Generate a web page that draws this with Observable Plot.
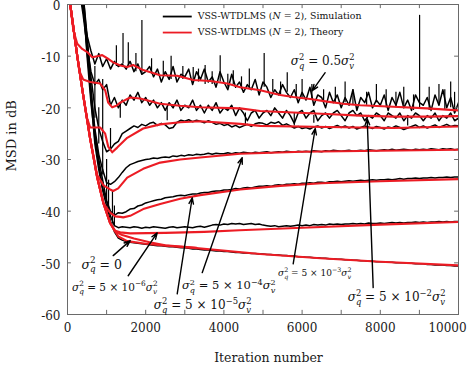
<!DOCTYPE html>
<html><head><meta charset="utf-8">
<script src="https://cdn.jsdelivr.net/npm/d3@7"></script>
<script src="https://cdn.jsdelivr.net/npm/@observablehq/plot@0.6"></script>
<style>
body{margin:0;background:#fff;}
#chart svg{display:block;}
</style>
</head><body><div id="chart"></div>
<script>
// ---------------- data ----------------
const simStep = 100; // iterations between simulation samples (x = index * simStep)

const sim05 = [
 12, 10, 7, 3, -1, -6, -9, -11.5, -9.5, -12,
 -10.5, -12.5, -11, -12, -11.5, -12.5, -11, -13, -11.5, -13.5,
 -13, -12, -14, -12.5, -15, -13, -14.5, -12, -15, -13.5,
 -14, -12.5, -15.5, -13, -14.5, -12.5, -15, -14, -16, -13,
 -15, -16.5, -13.5, -16, -15, -17, -15.5, -16.5, -14.5, -17.5,
 -15, -16, -18, -16.5, -17.5, -15.5, -17, -18, -16.5, -19,
 -17, -18.5, -16, -19.5, -17.5, -18, -20, -17, -19, -17.5,
 -20, -18, -19.5, -16.5, -20.5, -18, -19, -17, -20, -18.5,
 -19.5, -17.5, -20.5, -18, -19.5, -17, -20, -18.5, -20.5, -17.5,
 -19, -19.5, -18, -20.5, -17.5, -19.5, -16.5, -20, -18, -21,
 -19];
const sim5e2 = [
 12, 10, 7, 3, -2, -8, -13, -15.5, -14.5, -16.5,
 -15.5, -19.5, -18, -20, -18.5, -19.5, -17.5, -18.5, -17, -19,
 -18, -19.5, -18.5, -20, -19, -20.5, -19, -20, -18.5, -20.5,
 -19.5, -20, -18.5, -20.5, -19.5, -21, -19.5, -20.5, -19, -21,
 -20, -20.5, -19.5, -21.5, -20, -21, -22.5, -21, -20.5, -22,
 -21, -20.5, -21.5, -20, -21, -22, -20.5, -21.5, -23, -21,
 -20.5, -22, -21, -20.5, -22.5, -21.5, -21, -22, -21, -20.5,
 -21.5, -22.5, -21, -20.5, -21.5, -21, -22.5, -21.5, -22, -21,
 -21.5, -22.5, -21, -21.5, -22, -21, -22.5, -21.5, -22, -21,
 -21.5, -22.5, -21.5, -22, -21, -22.5, -21.5, -22, -21, -22.5,
 -22];
const sim5e3 = [
 12, 11, 8, 4, -1, -7, -14, -20, -24, -26.5,
 -28.5, -28, -27, -26.5, -25, -24.5, -24, -23.5, -23.8, -23.2,
 -23.5, -23, -22.8, -23.4, -23, -23.3, -24, -23.8, -22.8, -22.4,
 -22.6, -22.3, -22.7, -22.4, -22.6, -22.9, -22.5, -22.8, -23.2, -23,
 -23.4, -23.2, -23.7, -23.4, -23.8, -23.5, -23.2, -23.6, -23.1, -22.9,
 -23, -23.3, -22.8, -23, -22.7, -23.4, -23.1, -23.5, -23.9, -23.6,
 -24, -23.8, -24.1, -23.7, -23.5, -23.9, -23.6, -24, -23.7, -23.4,
 -23.8, -23.5, -23.9, -23.6, -24.1, -23.8, -23.5, -23.7, -24, -23.6,
 -23.8, -24.1, -23.7, -23.9, -23.5, -23.8, -24.2, -23.9, -23.6, -23.3,
 -23.8, -23.5, -23.9, -23.6, -23.3, -23.8, -23.5, -23.2, -23.6, -23.4,
 -23.5];
const sim5e4 = [
 12, 11, 9, 5, 0, -9, -17, -24, -29, -32,
 -34.5, -34.8, -34.3, -33.5, -32.5, -31.6, -31, -30.7, -30.4, -30.2,
 -30, -29.9, -29.7, -29.8, -29.6, -29.5, -29.6, -29.3, -29.4, -29.2,
 -29.3, -29.1, -29.2, -29, -29.1, -29, -28.8, -29, -28.8, -28.9,
 -28.9, -28.7, -28.9, -28.7, -28.8, -28.6, -28.7, -28.8, -28.6, -28.7,
 -28.6, -28.5, -28.7, -28.6, -28.5, -28.6, -28.4, -28.5, -28.6, -28.4,
 -28.5, -28.4, -28.5, -28.3, -28.4, -28.5, -28.3, -28.4, -28.2, -28.3,
 -28.4, -28.3, -28.2, -28.4, -28.3, -28.2, -28.3, -28.1, -28.2, -28.3,
 -28.2, -28.1, -28.2, -28, -28.2, -28.1, -28, -28.1, -28.2, -28,
 -28.1, -28, -28.1, -27.9, -28, -28.1, -27.9, -28, -27.9, -28.1,
 -28];
const sim5e5 = [
 12, 11, 9, 6, 1, -10, -19, -26, -31, -35.5,
 -38, -40, -40.8, -40.3, -40.4, -40.1, -39.6, -39.5, -39, -38.8,
 -38.4, -38.2, -38, -37.8, -37.7, -37.4, -37.3, -37.2, -37, -36.9,
 -37, -36.8, -36.7, -36.7, -36.5, -36.4, -36.4, -36.2, -36.1, -36.1,
 -35.9, -35.9, -35.8, -35.6, -35.7, -35.5, -35.4, -35.5, -35.3, -35.2,
 -35.2, -35.1, -35.2, -35, -34.9, -35, -34.8, -34.8, -34.7, -34.8,
 -34.6, -34.6, -34.5, -34.6, -34.4, -34.4, -34.5, -34.3, -34.3, -34.2,
 -34.3, -34.2, -34.1, -34.2, -34.1, -34, -34.1, -34, -33.9, -34,
 -33.9, -33.9, -33.8, -33.9, -33.8, -33.7, -33.8, -33.7, -33.7, -33.6,
 -33.7, -33.6, -33.6, -33.5, -33.6, -33.5, -33.5, -33.4, -33.5, -33.4,
 -33.4];
const sim5e6 = [
 12, 11, 10, 6, 2, -6, -16, -25, -30, -34,
 -38, -41, -42.8, -43.2, -43, -43.1, -43.2, -43, -43.1, -43.3,
 -43.1, -43.2, -43, -43.1, -43.2, -43.3, -43.1, -43, -43.2, -43.1,
 -43, -43.1, -43.2, -43, -42.9, -43.1, -42.9, -42.7, -42.6, -42.7,
 -42.5, -42.6, -42.4, -42.5, -42.4, -42.6, -42.5, -42.4, -42.6, -42.5,
 -42.7, -42.8, -42.9, -42.8, -43, -42.9, -42.8, -42.9, -42.8, -42.7,
 -42.8, -42.7, -42.8, -42.6, -42.7, -42.6, -42.7, -42.5, -42.6, -42.5,
 -42.6, -42.5, -42.5, -42.4, -42.5, -42.4, -42.5, -42.3, -42.4, -42.4,
 -42.3, -42.4, -42.3, -42.2, -42.3, -42.2, -42.3, -42.2, -42.2, -42.1,
 -42.2, -42.1, -42.2, -42.1, -42.1, -42, -42.1, -42, -42.1, -42,
 -42];
const sim0 = [
 12, 11, 10, 7, 2, -7, -18, -27, -32, -36,
 -39, -42, -44, -45.2, -45.6, -45.9, -46, -46.1, -46.2, -46.3,
 -46.4, -46.5, -46.6, -46.7, -46.7, -46.8, -46.9, -46.9, -47, -47.1,
 -47.1, -47.2, -47.3, -47.3, -47.4, -47.5, -47.5, -47.6, -47.7, -47.7,
 -47.8, -47.8, -47.9, -48, -48, -48.1, -48.1, -48.2, -48.2, -48.3,
 -48.3, -48.4, -48.4, -48.5, -48.5, -48.6, -48.6, -48.7, -48.7, -48.8,
 -48.8, -48.9, -48.9, -49, -49, -49.1, -49.1, -49.2, -49.2, -49.3,
 -49.3, -49.4, -49.4, -49.5, -49.5, -49.6, -49.6, -49.7, -49.7, -49.8,
 -49.8, -49.8, -49.9, -49.9, -50, -50, -50, -50.1, -50.1, -50.2,
 -50.2, -50.2, -50.3, -50.3, -50.4, -50.4, -50.4, -50.5, -50.5, -50.6,
 -50.6];

// isolated spikes in the simulated curves: [iteration, from dB, to dB]
const spikes = [
 [700, -22, -12], [800, -27, -20], [900, -33, -14.5], [1000, -38, -30], [1050, -40, -34],
 [1100, -28, -24], [1150, -42.5, -36], [1200, -43, -39],
 [1250, -12, -8], [1420, -11.5, -5.6], [1555, -12, -7.4], [1750, -13, -9.5], [1903, -13.5, -3.1],
 [2150, -13.5, -10.5], [2450, -14, -11], [2650, -14.5, -10], [2950, -14.5, -12], [3215, -15, -12.2],
 [3350, -15, -12.5], [3520, -15.5, -11.8], [3700, -15.5, -13], [3905, -15, -9.9], [4100, -16, -13.5],
 [4240, -15.5, -12.8], [4450, -16.5, -14], [4650, -16.5, -12.5], [5030, -16, -9.5], [5250, -17, -14.5],
 [5450, -17.5, -15], [5620, -17, -13.2], [5850, -18, -15.5], [6000, -18, -14.5], [6250, -18.5, -15.5],
 [6550, -19, -16.5], [6850, -19, -16], [7100, -19, -15], [7300, -19.5, -16.5], [7650, -19.5, -17],
 [7900, -19, -15.5], [8150, -20, -16.5], [8400, -20, -17], [8600, -19.5, -16], [8850, -20.5, -17.5],
 [9005, -20, -2.1], [9250, -20.5, -16], [9500, -19.5, -15.5], [9650, -20.5, -16.5], [9800, -20, -15],
 [9900, -21, -17],
 [1350, -19, -22], [2550, -20, -22.5], [4550, -21, -23.5], [5800, -21, -23.5], [6300, -21.5, -23], [8700, -21.5, -23.5]
];

// theory curves: [iteration, dB]
const th05 = [[0,2],[70,0],[150,-5],[250,-7.6],[376,-8.6],[504,-9.2],[632,-10.2],[760,-10],[887,-9.8],[1015,-10.4],[1169,-11.2],[1350,-11.8],[1527,-12.1],[1680,-11.7],[1936,-12.7],[2371,-13.7],[2806,-13.8],[3215,-14.6],[3650,-14.8],[4084,-15.3],[4417,-16],[4928,-16.6],[5440,-17.5],[5772,-17.9],[6207,-18.3],[6642,-18.8],[7051,-19.2],[7486,-19.5],[8330,-19.8],[9199,-20.1],[10000,-20.5]];
const th5e2 = [[0,2],[70,0],[250,-10],[300,-12.8],[400,-14.5],[580,-15],[836,-15.3],[964,-16.6],[1041,-19],[1143,-19.9],[1250,-19.6],[1348,-19],[1604,-18],[1860,-18.2],[2371,-19.2],[2882,-19.6],[3394,-19.9],[4417,-20.1],[4928,-20.6],[5772,-20.9],[6642,-21.2],[7486,-21.5],[8330,-21.7],[9199,-21.7],[10000,-21.6]];
const th5e3 = [[0,2],[70,0],[250,-10],[400,-17.5],[500,-22],[580,-23.8],[836,-23.8],[964,-25],[1041,-27.5],[1143,-28.6],[1271,-27.7],[1527,-25.8],[1936,-24],[2371,-23.2],[2882,-22.8],[3394,-22.6],[4417,-23.1],[4928,-23.5],[6642,-23.7],[8330,-23.9],[10000,-23.6]];
const th5e4 = [[0,2],[70,0],[250,-10],[400,-17.5],[580,-26],[760,-33],[920,-35],[1090,-35.8],[1169,-36.1],[1297,-35.6],[1527,-33.5],[1936,-31.8],[2371,-30.6],[2882,-30],[3394,-29.6],[4417,-28.9],[6000,-28.5],[8000,-28.3],[10000,-28.1]];
const th5e5 = [[0,2],[70,0],[250,-10],[400,-17.5],[580,-26],[760,-33.5],[920,-38.5],[1090,-40.3],[1220,-41],[1348,-41.1],[1425,-41.2],[1604,-40.9],[1936,-39.6],[2371,-38.6],[2882,-37.6],[3394,-36.9],[4417,-35.8],[5440,-35.1],[6500,-34.6],[8000,-34.2],[10000,-33.8]];
const th5e6 = [[0,2],[70,0],[250,-10],[400,-17.5],[580,-26],[760,-33.5],[920,-38.5],[1090,-42.3],[1220,-43.8],[1348,-44.1],[1600,-44.3],[2500,-44.2],[3500,-44],[4400,-43.7],[6000,-43.2],[8000,-42.6],[10000,-42.1]];
const thMid = [[0,2],[70,0],[250,-10],[400,-17.5],[580,-26],[760,-33.5],[920,-38.5],[1090,-42.3],[1220,-44],[1400,-44.6],[1700,-45.3],[2100,-46],[2500,-46.6],[3300,-47.1]];
const th0 = [[0,2],[70,0],[250,-10],[400,-17.5],[580,-26],[760,-33.5],[920,-38.5],[1090,-42.3],[1300,-44.9],[1527,-45.8],[2000,-46.3],[2371,-46.6],[3226,-47.1],[4928,-48.3],[6470,-49.1],[8000,-49.8],[10000,-50.5]];

// axis ticks
const xMinorTicks = [0,1000,2000,3000,4000,5000,6000,7000,8000,9000,10000];
const xLabelTicks = [0,2000,4000,6000,8000,10000];
const yTicks = [0,-10,-20,-30,-40,-50,-60];

// texts
const legendLabels = ["Simulation", "Theory"];
const legendPrefix = "VSS-WTDLMS (";
const legendMid = " = 2), ";
const xLabel = "Iteration number";
const yLabel = "MSD in dB";
const annRhs = ["0.5", "5e-2", "5e-3", "5e-4", "5e-5", "5e-6", "0"];
// annotation placement (data coords) and arrows
const annX = [6540, 8430, 6335, 4140, 3470, 1222, 887];
const annY = [-11.05, -56.8, -52.1, -54.5, -58.3, -54.8, -50.4];
const annSize = [12, 12, 9, 11.5, 12, 10.5, 12.5];
const arrowX1 = [6590, 7818, 5772, 3445, 2806, 1552, 1169];
const arrowY1 = [-13.2, -54.8, -50.2, -51.9, -56, -52.5, -48.6];
const arrowX2 = [6258, 7665, 6335, 4468, 3189, 2294, 1604];
const arrowY2 = [-16.7, -22.1, -24, -29.65, -37.4, -44.2, -45.7];
const legendX = [2450, 3190, 3343];
const legendY = [-2.33, -5.43];

// ---------------- build ----------------
const simSeries = [sim05, sim5e2, sim5e3, sim5e4, sim5e5, sim5e6, sim0];
const simRows = simSeries.flatMap((ys, s) => ys.map((y, i) => ({s, x: i * simStep, y})));
const thSeries = [th05, th5e2, th5e3, th5e4, th5e5, th5e6, thMid, th0];
const thRows = thSeries.flatMap((pts, s) => pts.map(([x, y]) => ({s, x, y})));
const arrows = arrowX1.map((_, i) => i);

const RED = "#ec1c24";
const GRID = "#6a6a6a";

const plot = Plot.plot({
  width: 474, height: 369,
  marginLeft: 67, marginRight: 16, marginTop: 4, marginBottom: 55,
  x: {domain: [0, 10000]},
  y: {domain: [-60, 0]},
  style: {fontFamily: "DejaVu Serif", fontSize: "12px", color: "#1a1a1a", background: "#fff"},
  marks: [
    Plot.line(simRows, {x: "x", y: "y", z: "s", stroke: "black", strokeWidth: 1.5, clip: true}),
    Plot.ruleX(spikes, {x: d => d[0], y1: d => d[1], y2: d => d[2], stroke: "black", strokeWidth: 1.2, clip: true}),
    Plot.line(thRows, {x: "x", y: "y", z: "s", stroke: RED, strokeWidth: 2.1, clip: true}),
    Plot.arrow(arrows, {x1: i => arrowX1[i], y1: i => arrowY1[i], x2: i => arrowX2[i], y2: i => arrowY2[i],
      stroke: "black", strokeWidth: 1.4, headLength: 7, headAngle: 40}),
    Plot.ruleY([legendY[0]], {x1: legendX[0], x2: legendX[1], y: d => d, stroke: "black", strokeWidth: 1.8}),
    Plot.ruleY([legendY[1]], {x1: legendX[0], x2: legendX[1], y: d => d, stroke: RED, strokeWidth: 1.8}),
    Plot.frame({stroke: GRID}),
    Plot.ruleX(xMinorTicks, {x: d => d, y1: -60, y2: -59.2, stroke: GRID}),
    Plot.ruleX(xMinorTicks, {x: d => d, y1: 0, y2: -0.8, stroke: GRID}),
    Plot.ruleY(yTicks, {y: d => d, x1: 0, x2: 100, stroke: GRID}),
    Plot.ruleY(yTicks, {y: d => d, x1: 10000, x2: 9900, stroke: GRID}),
    Plot.axisX({ticks: xLabelTicks.slice(0, -1), tickSize: 0, tickPadding: 9, tickFormat: d => String(d), label: null, fontSize: 12}),
    Plot.axisX({ticks: xLabelTicks.slice(-1), tickSize: 0, tickPadding: 9, tickFormat: d => String(d), label: null, fontSize: 12, dx: -11}),
    Plot.axisY({ticks: yTicks, tickSize: 0, tickPadding: 7, tickFormat: d => String(d), label: null, fontSize: 12, dy: 2}),
    Plot.text([xLabel], {frameAnchor: "bottom", dy: 47, dx: 5.5, fontSize: 12.5}),
    Plot.text([yLabel], {frameAnchor: "left", rotate: -90, dx: -56, dy: 12, fontSize: 13})
  ]
});
document.getElementById("chart").append(plot);

// ---------- math-style labels placed through the plot's scales ----------
const sx = plot.scale("x"), sy = plot.scale("y");
const X = sx.apply ? v => sx.apply(v) : d3.scaleLinear(sx.domain, sx.range);
const Y = sy.apply ? v => sy.apply(v) : d3.scaleLinear(sy.domain, sy.range);
const NS = "http://www.w3.org/2000/svg";

function mathText(cx, cy, fs, segs, anchor) {
  const t = document.createElementNS(NS, "text");
  t.setAttribute("x", cx);
  t.setAttribute("y", cy + 0.33 * fs);
  t.setAttribute("text-anchor", anchor);
  t.setAttribute("font-family", "DejaVu Serif");
  t.setAttribute("font-size", fs);
  t.setAttribute("fill", "#111");
  t.style.whiteSpace = "pre";
  let off = 0;
  for (const s of segs) {
    const ts = document.createElementNS(NS, "tspan");
    const target = s.pos === "sup" ? -0.42 * fs : s.pos === "sub" ? 0.3 * fs : 0;
    const dy = target - off; off = target;
    if (dy) ts.setAttribute("dy", dy);
    if (s.dx) ts.setAttribute("dx", s.dx * fs);
    ts.setAttribute("font-size", s.pos ? 0.7 * fs : fs);
    if (s.it) ts.setAttribute("font-style", "italic");
    ts.textContent = s.t;
    t.append(ts);
  }
  plot.append(t);
  return t;
}
const sigma = sub => [{t: "σ", it: true}, {t: "2", pos: "sup"}, {t: sub, pos: "sub", it: true, dx: -0.445}];

annRhs.forEach((rhs, i) => {
  let segs = [...sigma("q"), {t: " = "}];
  if (rhs === "0") segs.push({t: "0"});
  else if (rhs.includes("e")) {
    const [m, e] = rhs.split("e");
    segs.push({t: m + " × 10"}, {t: "−" + e.replace("-", ""), pos: "sup"}, ...sigma("v"));
  } else segs.push({t: rhs}, ...sigma("v"));
  mathText(X(annX[i]), Y(annY[i]), annSize[i], segs, "middle");
});

legendLabels.forEach((lab, i) => {
  mathText(X(legendX[2]), Y(legendY[i]), 9.4,
    [{t: legendPrefix}, {t: "N", it: true}, {t: legendMid + lab}], "start");
});
</script></body></html>
